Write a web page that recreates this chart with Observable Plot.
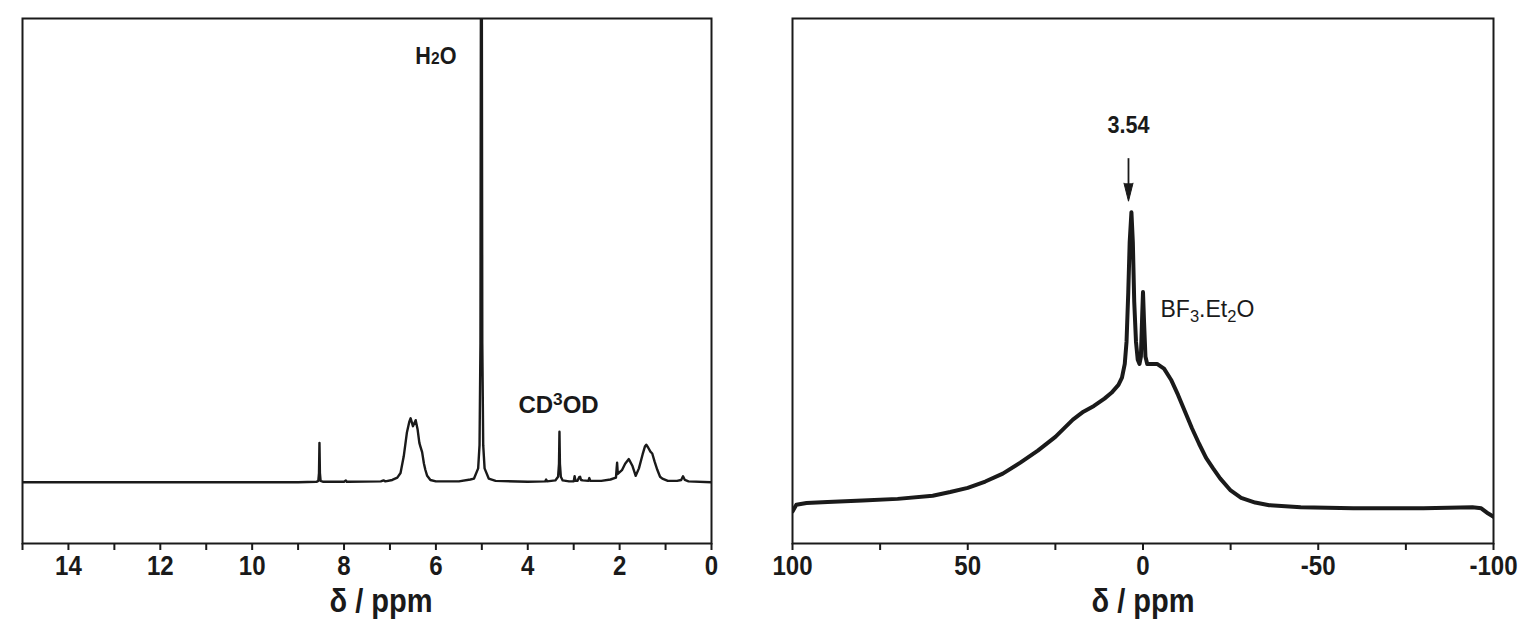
<!DOCTYPE html>
<html><head><meta charset="utf-8">
<script src="https://cdn.jsdelivr.net/npm/d3@7"></script>
<script src="https://cdn.jsdelivr.net/npm/@observablehq/plot@0.6"></script>
<style>
body{margin:0;background:#fff;width:1531px;height:634px;overflow:hidden;position:relative}
#left{position:absolute;left:0;top:0}
#right{position:absolute;left:760px;top:0}
</style></head><body>
<div id="left"></div><div id="right"></div>
<script>
// ---- Left panel: 1H NMR spectrum (ppm, relative intensity) ----
const hPpm = [15, 12, 10, 9, 8.6, 8.56, 8.545, 8.535, 8.525, 8.51, 8.45, 8.0, 7.96, 7.94, 7.9, 7.2, 7.14, 7.1, 6.95, 6.84, 6.77, 6.70, 6.63, 6.58, 6.55, 6.50, 6.44, 6.40, 6.36, 6.34, 6.30, 6.26, 6.23, 6.19, 6.12, 6.0, 5.5, 5.25, 5.17, 5.08, 5.05, 5.03, 5.015, 5.005, 4.99, 4.97, 4.94, 4.85, 4.7, 4.0, 3.62, 3.60, 3.58, 3.40, 3.34, 3.32, 3.31, 3.30, 3.28, 3.24, 3.1, 3.0, 2.98, 2.96, 2.92, 2.88, 2.86, 2.84, 2.80, 2.68, 2.66, 2.64, 2.4, 2.2, 2.08, 2.065, 2.055, 2.04, 1.95, 1.88, 1.80, 1.72, 1.65, 1.58, 1.50, 1.45, 1.42, 1.38, 1.33, 1.29, 1.24, 1.18, 1.12, 1.07, 0.95, 0.75, 0.66, 0.62, 0.58, 0.5, 0];
const hInt = [0, 0, 0, 0, 0.001, 0.003, 0.02, 0.085, 0.02, 0.003, 0.001, 0.001, 0.004, 0.001, 0.001, 0.002, 0.004, 0.002, 0.005, 0.01, 0.02, 0.056, 0.108, 0.13, 0.138, 0.121, 0.134, 0.115, 0.085, 0.078, 0.065, 0.04, 0.027, 0.014, 0.005, 0.002, 0.002, 0.006, 0.008, 0.03, 0.08, 0.3, 1.4, 1.4, 0.3, 0.08, 0.03, 0.008, 0.003, 0.001, 0.002, 0.006, 0.002, 0.004, 0.012, 0.04, 0.109, 0.04, 0.012, 0.004, 0.002, 0.002, 0.013, 0.003, 0.003, 0.011, 0.012, 0.005, 0.004, 0.003, 0.009, 0.003, 0.003, 0.006, 0.01, 0.03, 0.042, 0.018, 0.026, 0.04, 0.05, 0.035, 0.014, 0.03, 0.06, 0.077, 0.081, 0.075, 0.066, 0.062, 0.045, 0.027, 0.012, 0.008, 0.003, 0.003, 0.005, 0.013, 0.005, 0.002, 0];
const hTicks = [14, 12, 10, 8, 6, 4, 2, 0];
const hMinor = [15, 13, 11, 9, 7, 5, 3, 1];

// ---- Right panel: 11B NMR spectrum ----
const bPpm = [100, 98.9, 96, 90, 80, 70, 60, 55, 50, 45, 40, 35, 30, 25, 20, 17, 14, 11, 9, 7, 6, 5.2, 4.7, 4.2, 3.8, 3.3, 2.9, 2.5, 2.0, 1.5, 1.0, 0.6, 0.2, 0.0, -0.3, -0.7, -1.2, -4, -6, -8, -10, -12, -14, -16, -18, -20, -22, -25, -28, -32, -36, -45, -60, -80, -94, -96.5, -98.5, -100];
const bInt = [0.061, 0.074, 0.077, 0.079, 0.082, 0.085, 0.091, 0.098, 0.106, 0.118, 0.133, 0.154, 0.177, 0.203, 0.236, 0.251, 0.262, 0.276, 0.287, 0.302, 0.316, 0.342, 0.384, 0.479, 0.574, 0.631, 0.574, 0.46, 0.384, 0.35, 0.342, 0.356, 0.441, 0.479, 0.422, 0.356, 0.342, 0.342, 0.333, 0.312, 0.283, 0.251, 0.219, 0.19, 0.163, 0.143, 0.124, 0.101, 0.087, 0.078, 0.073, 0.069, 0.067, 0.067, 0.069, 0.067, 0.057, 0.051];
const bTicks = [100, 50, 0, -50, -100];
const bMinor = [75, 25, -25, -75];

const axisTitle = "δ / ppm";
const FONT = "'Liberation Sans', Arial, sans-serif";
const INK = "#1a1a1a";

const hData = hPpm.map((p, i) => ({ppm: p, v: hInt[i]}));
const bData = bPpm.map((p, i) => ({ppm: p, v: bInt[i]}));

const common = {
  height: 634, marginTop: 18, marginBottom: 91,
  style: {fontFamily: FONT, fontWeight: "bold", fontSize: "24px", color: INK, background: "white", overflow: "visible"}
};

const majorAxis = ticks => Plot.axisX({ticks, tickSize: 7, tickPadding: 5, strokeWidth: 2, stroke: INK, fill: INK, fontSize: 28, fontWeight: "bold", tickFormat: d => String(d), label: null});
const minorAxis = ticks => Plot.axisX({ticks, tickSize: 7, strokeWidth: 2, stroke: INK, tickFormat: () => "", label: null});

const left = Plot.plot({
  ...common,
  width: 760, marginLeft: 22, marginRight: 49,
  x: {domain: [15, 0], label: null},
  y: {domain: [-0.132, 1], axis: null},
  marks: [
    Plot.line(hData, {x: "ppm", y: "v", stroke: INK, strokeWidth: 2.4, clip: true}),
    Plot.frame({stroke: INK, strokeWidth: 2}),
    minorAxis(hMinor),
    majorAxis(hTicks),
    Plot.text([axisTitle], {frameAnchor: "bottom", dx: 14, dy: 68, fontSize: 33, fontWeight: "bold", fill: INK}),
    Plot.text(["H2O"], {x: 6.0, y: 0.918, fontSize: 24, fontWeight: "bold", fill: INK}),
    Plot.text(["CD3OD"], {x: 3.33, y: 0.165, fontSize: 24, fontWeight: "bold", fill: INK})
  ]
});

const right = Plot.plot({
  ...common,
  width: 771, marginLeft: 32, marginRight: 38,
  x: {domain: [100, -100], label: null},
  y: {domain: [0, 1], axis: null},
  marks: [
    Plot.line(bData, {x: "ppm", y: "v", stroke: INK, strokeWidth: 4, clip: true}),
    Plot.frame({stroke: INK, strokeWidth: 2}),
    minorAxis(bMinor),
    majorAxis(bTicks),
    Plot.text([axisTitle], {frameAnchor: "bottom", dy: 68, fontSize: 33, fontWeight: "bold", fill: INK}),
    Plot.text(["3.54"], {x: 4.14, y: 0.797, fontSize: 24, fontWeight: "bold", fill: INK}),
    Plot.ruleX([4.14], {y1: 0.733, y2: 0.68, stroke: INK, strokeWidth: 1.8}),
    Plot.vector([4.14], {x: d => d, y: 0.652, rotate: 180, length: 18, r: 4.5, shape: "spike", anchor: "end", fill: INK, stroke: INK, strokeWidth: 1}),
    Plot.text(["BF3.Et2O"], {x: -5, y: 0.445, textAnchor: "start", fontSize: 23, fontWeight: "normal", fill: INK})
  ]
});

document.getElementById("left").appendChild(left);
document.getElementById("right").appendChild(right);

// Rich text (sub/superscripts) for the annotation labels; condensed bold digits
const rich = {
  "H2O": [["H", 0], ["2", "sub-small"], ["O", 0]],
  "CD3OD": [["CD", 0], ["3", "sup"], ["OD", 0]],
  "BF3.Et2O": [["BF", 0], ["3", "sub"], [".Et", 0], ["2", "sub"], ["O", 0]]
};
const condense = {"δ / ppm": 0.88, "3.54": 0.9, "H2O": 0.9};
for (const svg of [left, right]) {
  svg.querySelectorAll("text").forEach(t => {
    const txt = t.textContent;
    const isTick = /^-?\d+$/.test(txt);
    const s = isTick ? 0.86 : condense[txt];
    if (s) {
      if (!t.getAttribute("transform")) {
        const x = +t.getAttribute("x") || 0, y = +t.getAttribute("y") || 0;
        t.removeAttribute("x"); t.removeAttribute("y");
        t.setAttribute("transform", `translate(${x},${y})`);
      }
      t.setAttribute("transform", t.getAttribute("transform") + ` scale(${s},1)`);
    }
    const parts = rich[txt];
    if (!parts) return;
    while (t.firstChild) t.removeChild(t.firstChild);
    for (const [str, kind] of parts) {
      const ts = document.createElementNS("http://www.w3.org/2000/svg", "tspan");
      ts.textContent = str;
      if (kind === "sub") { ts.setAttribute("font-size", "0.72em"); ts.setAttribute("baseline-shift", "-30%"); }
      if (kind === "sub-small") { ts.setAttribute("font-size", "0.72em"); }
      if (kind === "sup") { ts.setAttribute("font-size", "0.72em"); ts.setAttribute("baseline-shift", "45%"); }
      t.appendChild(ts);
    }
  });
}
</script></body></html>
